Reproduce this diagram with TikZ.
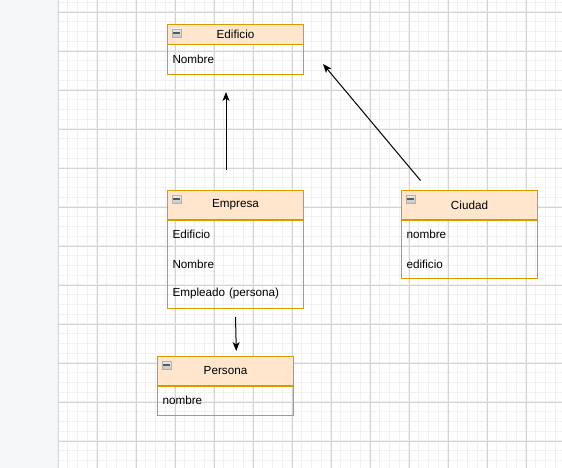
\documentclass[tikz,border=0pt]{standalone}
\usepackage{fontspec}
\setmainfont{Liberation Sans}
\usetikzlibrary{positioning,calc,arrows.meta}

\definecolor{boxline}{HTML}{D79B00}
\definecolor{hdrfill}{HTML}{FFE6CC}
\definecolor{sidebar}{HTML}{F6F7F9}
\definecolor{gridminor}{HTML}{F1F1F1}
\definecolor{gridmajor}{HTML}{D4D4D4}

\tikzset{
  uml/.style={font=\fontsize{11.7}{14}\selectfont},
  hdr/.style={uml, draw=boxline, fill=hdrfill, line width=1pt,
    minimum width=136, minimum height=29, inner sep=0},
  row/.style={uml, minimum width=136, minimum height=29, text width=126,
    inner xsep=5, inner ysep=0, align=left},
  toggle/.style={draw=gray!60, top color=gray!15, bottom color=gray!45,
    minimum width=9, minimum height=8, inner sep=0, line width=0.6pt},
  conn/.style={line width=1pt, -{Stealth[length=9pt,width=7pt,inset=2.5pt]}}
}

\begin{document}
\begin{tikzpicture}[x=1pt, y=-1pt]
  \useasboundingbox (0,0) rectangle (562,468);
  % canvas
  \fill[sidebar] (0,0) rectangle (58,468);
  \fill[white] (58,0) rectangle (562,468);
  \foreach \x in {58,67.75,...,562} \draw[gridminor, line width=1.2pt] (\x,0) -- (\x,468);
  \foreach \y in {2.25,12,...,468} \draw[gridminor, line width=1.2pt] (58,\y) -- (562,\y);
  \foreach \x in {97,136,...,562} \draw[gridmajor, line width=0.8pt] (\x,0) -- (\x,468);
  \foreach \y in {12,51,...,468} \draw[gridmajor, line width=0.8pt] (58,\y) -- (562,\y);
  \draw[gray!30, line width=1.5pt] (58.5,0) -- (58.5,468);

  % Edificio
  \node[hdr, minimum height=20, anchor=north west] (edificio) at (167,24) {Edificio};
  \node[row, below=0pt of edificio] (edificio-1) {Nombre};
  \draw[boxline, line width=1pt] (edificio.south west) rectangle (edificio-1.south east);

  % Empresa
  \node[hdr, anchor=north west] (empresa) at (167,190) {Empresa};
  \node[row, below=0pt of empresa] (empresa-1) {Edificio};
  \node[row, below=0pt of empresa-1] (empresa-2) {Nombre};
  \node[row, below=0pt of empresa-2] (empresa-3) {Empleado (persona)};
  \draw[boxline, line width=1pt] (empresa.south west) rectangle (empresa-3.south east);

  % Ciudad
  \node[hdr, anchor=north west] (ciudad) at (401,190) {Ciudad};
  \node[row, below=0pt of ciudad] (ciudad-1) {nombre};
  \node[row, below=0pt of ciudad-1] (ciudad-2) {edificio};
  \draw[boxline, line width=1pt] (ciudad.south west) rectangle (ciudad-2.south east);

  % Persona
  \node[hdr, anchor=north west] (persona) at (157,356) {Persona};
  \node[row, below=0pt of persona] (persona-1) {nombre};
  \draw[boxline, line width=1pt] (persona.south west) rectangle (persona-1.south east);

  % collapse toggles
  \foreach \h in {edificio,empresa,ciudad,persona} {
    \node[toggle] (\h-t) at ($(\h.north west)+(9.5,9)$) {};
    \draw[black!65, line width=2pt] ([xshift=1.2pt]\h-t.west) -- ([xshift=-1.2pt]\h-t.east);
  }

  % loose arrow ends
  \coordinate (empresa-up) at (226,170);
  \coordinate (edificio-in) at (226,92);
  \coordinate (ciudad-out) at (420.5,180.5);
  \coordinate (edificio-in2) at (323,64);
  \coordinate (empresa-down) at (235.5,317);
  \coordinate (persona-in) at (236.3,351);

  \path[conn]
  (empresa-up) edge (edificio-in)
  (ciudad-out) edge (edificio-in2)
  (empresa-down) edge (persona-in);
\end{tikzpicture}
\end{document}
